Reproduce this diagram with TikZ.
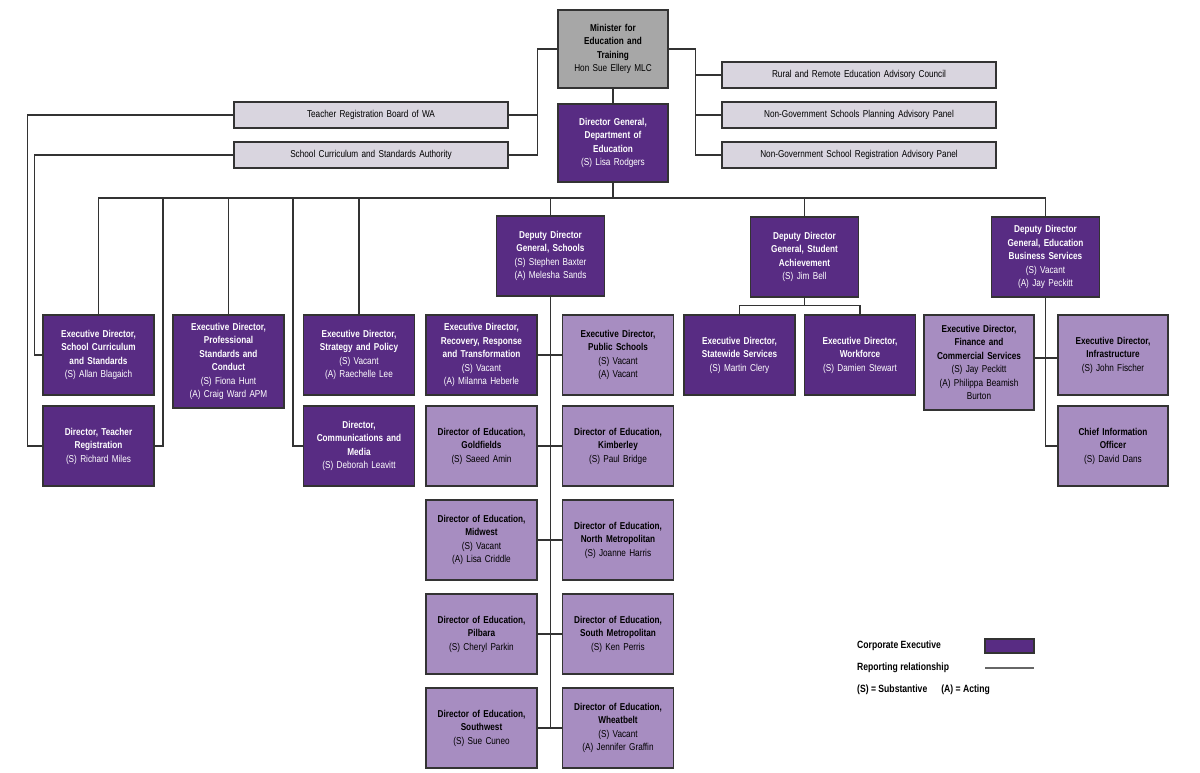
\documentclass[tikz,border=0pt]{standalone}
\usepackage{fontspec}
\setmainfont{Liberation Sans}[FakeStretch=0.82]
\definecolor{dkp}{HTML}{582C83}
\definecolor{ltp}{HTML}{A78DC1}
\definecolor{gry}{HTML}{A7A7A7}
\definecolor{adv}{HTML}{D9D5DF}
\definecolor{edge}{HTML}{333333}
\begin{document}
\begin{tikzpicture}[x=1pt,y=-1pt,
  box/.style={draw=edge,line width=1.2pt,align=center,inner sep=2pt,
    font=\fontsize{10}{13.5}\selectfont,text width=#1},
  box/.default=104pt,
  dk/.style={box,fill=dkp,text=white,minimum width=111pt,minimum height=80pt},
  lt/.style={box,fill=ltp,text=black,minimum width=111pt,minimum height=80pt},
  gr/.style={box,fill=gry,text=black,minimum width=110pt,minimum height=78pt},
  ad/.style={box=268pt,fill=adv,text=black,minimum width=274pt,minimum height=26pt,
    font=\fontsize{10}{12}\selectfont},
  ln/.style={draw=edge,line width=1.2pt},
  lg/.style={anchor=west,font=\bfseries\fontsize{10.5}{12}\selectfont,inner sep=0pt}]
\useasboundingbox (0,0) rectangle (1200,773);
\fill[white] (0,0) rectangle (1200,773);
% top
\node[gr] (min) at (613,49) {\textbf{Minister for}\\\textbf{Education and}\\\textbf{Training}\\Hon Sue Ellery MLC};
\node[dk,minimum width=110pt,minimum height=78pt] (dg) at (613,143) {\textbf{Director General,}\\\textbf{Department of}\\\textbf{Education}\\(S) Lisa Rodgers};
\node[ad] (trb) at (371,115) {Teacher Registration Board of WA};
\node[ad] (scsa) at (371,155) {School Curriculum and Standards Authority};
\node[ad] (rur) at (859,75) {Rural and Remote Education Advisory Council};
\node[ad] (ngp) at (859,115) {Non-Government Schools Planning Advisory Panel};
\node[ad] (ngr) at (859,155) {Non-Government School Registration Advisory Panel};
% deputies
\node[dk,minimum width=105pt] (ddgs) at (550.5,256) {\textbf{Deputy Director}\\\textbf{General, Schools}\\(S) Stephen Baxter\\(A) Melesha Sands};
\node[dk,minimum width=105pt] (ddgsa) at (804.5,257) {\textbf{Deputy Director}\\\textbf{General, Student}\\\textbf{Achievement}\\(S) Jim Bell};
\node[dk,minimum width=105pt] (ddge) at (1045.5,257) {\textbf{Deputy Director}\\\textbf{General, Education}\\\textbf{Business Services}\\(S) Vacant\\(A) Jay Peckitt};
% left column
\node[dk] (edsc) at (98.5,355) {\textbf{Executive Director,}\\\textbf{School Curriculum}\\\textbf{and Standards}\\(S) Allan Blagaich};
\node[dk] (dtr) at (98.5,446) {\textbf{Director, Teacher}\\\textbf{Registration}\\(S) Richard Miles};
\node[dk,minimum height=93pt] (edps) at (228.5,361.5) {\textbf{Executive Director,}\\\textbf{Professional}\\\textbf{Standards and}\\\textbf{Conduct}\\(S) Fiona Hunt\\(A) Craig Ward APM};
\node[dk] (edsp) at (359,355) {\textbf{Executive Director,}\\\textbf{Strategy and Policy}\\(S) Vacant\\(A) Raechelle Lee};
\node[dk] (dcm) at (359,446) {\textbf{Director,}\\\textbf{Communications and}\\\textbf{Media}\\(S) Deborah Leavitt};
% schools column
\node[dk] (edr) at (481.5,355) {\textbf{Executive Director,}\\\textbf{Recovery, Response}\\\textbf{and Transformation}\\(S) Vacant\\(A) Milanna Heberle};
\node[lt] (pub) at (618,355) {\textbf{Executive Director,}\\\textbf{Public Schools}\\(S) Vacant\\(A) Vacant};
\node[lt] (gold) at (481.5,446) {\textbf{Director of Education,}\\\textbf{Goldfields}\\(S) Saeed Amin};
\node[lt] (kim) at (618,446) {\textbf{Director of Education,}\\\textbf{Kimberley}\\(S) Paul Bridge};
\node[lt] (mid) at (481.5,540) {\textbf{Director of Education,}\\\textbf{Midwest}\\(S) Vacant\\(A) Lisa Criddle};
\node[lt] (nm) at (618,540) {\textbf{Director of Education,}\\\textbf{North Metropolitan}\\(S) Joanne Harris};
\node[lt] (pil) at (481.5,634) {\textbf{Director of Education,}\\\textbf{Pilbara}\\(S) Cheryl Parkin};
\node[lt] (sm) at (618,634) {\textbf{Director of Education,}\\\textbf{South Metropolitan}\\(S) Ken Perris};
\node[lt] (sw) at (481.5,728) {\textbf{Director of Education,}\\\textbf{Southwest}\\(S) Sue Cuneo};
\node[lt] (wb) at (618,728) {\textbf{Director of Education,}\\\textbf{Wheatbelt}\\(S) Vacant\\(A) Jennifer Graffin};
% student achievement
\node[dk] (sws) at (739.5,355) {\textbf{Executive Director,}\\\textbf{Statewide Services}\\(S) Martin Clery};
\node[dk] (wf) at (860,355) {\textbf{Executive Director,}\\\textbf{Workforce}\\(S) Damien Stewart};
% business services
\node[lt,minimum width=110pt,minimum height=95pt] (fin) at (979,362.5) {\textbf{Executive Director,}\\\textbf{Finance and}\\\textbf{Commercial Services}\\(S) Jay Peckitt\\(A) Philippa Beamish\\Burton};
\node[lt,minimum width=110pt] (inf) at (1113,355) {\textbf{Executive Director,}\\\textbf{Infrastructure}\\(S) John Fischer};
\node[lt,minimum width=110pt] (cio) at (1113,446) {\textbf{Chief Information}\\\textbf{Officer}\\(S) David Dans};
% coordinates
\coordinate (bus) at (0,198);
\coordinate (l163) at (163,198);
\coordinate (l293) at (293,198);
% connectors
\draw[ln] (min.west) -- ++(-20,0) coordinate (ml) |- (trb.east);
\draw[ln] (ml) |- (scsa.east);
\draw[ln] (min.east) -- ++(27,0) coordinate (mr) |- (rur.west);
\draw[ln] (mr) |- (ngp.west);
\draw[ln] (mr) |- (ngr.west);
\draw[ln] (min) -- (dg);
\draw[ln] (dg.south) -- (dg.south |- bus);
\draw[ln] (edsc.north) -- (edsc.north |- bus) -- (ddge.north |- bus) -- (ddge.north);
\draw[ln] (edps.north) -- (edps.north |- bus);
\draw[ln] (edsp.north) -- (edsp.north |- bus);
\draw[ln] (ddgs.north) -- (ddgs.north |- bus);
\draw[ln] (ddgsa.north) -- (ddgsa.north |- bus);
\draw[ln] (l163) |- (dtr.east);
\draw[ln] (l293) |- (dcm.west);
\draw[ln] (trb.west) -- ++(-206,0) |- (dtr.west);
\draw[ln] (scsa.west) -- ++(-199,0) |- (edsc.west);
\draw[ln] (ddgs.south) -- (ddgs.south |- sw.east);
\draw[ln] (edr.east) -- (pub.west);
\draw[ln] (gold.east) -- (kim.west);
\draw[ln] (mid.east) -- (nm.west);
\draw[ln] (pil.east) -- (sm.west);
\draw[ln] (sw.east) -- (wb.west);
\draw[ln] (ddgsa.south) -- ++(0,8) coordinate (sab);
\draw[ln] (sws.north) |- (sab) -| (wf.north);
\draw[ln] (ddge.south) -- (ddge.south |- cio.west) -- (cio.west);
\draw[ln] ([yshift=-3pt]inf.west) -- ([yshift=-3pt]inf.west -| fin.east);
% legend
\node[lg] (lg1) at (857,646) {Corporate Executive};
\node[draw=edge,line width=1.2pt,fill=dkp,minimum width=49pt,minimum height=14pt,inner sep=0pt] (lgbox) at (1009.5,646) {};
\node[lg] (lg2) at (857,668) {Reporting relationship};
\coordinate (lgl1) at (985,668);
\coordinate (lgl2) at (1034,668);
\draw[draw=gray!80!black,line width=1.6pt] (lgl1) -- (lgl2);
\node[lg] (lg3) at (857,690) {(S) = Substantive\hspace{14pt}(A) = Acting};
\end{tikzpicture}
\end{document}
